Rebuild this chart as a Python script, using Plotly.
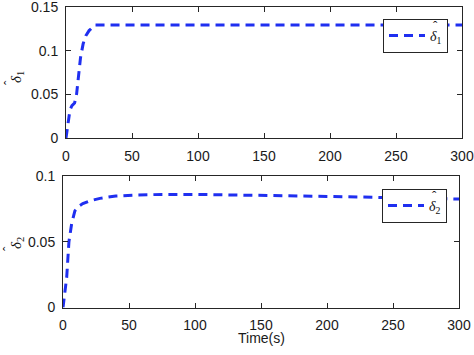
import plotly.graph_objects as go

# Data
t1 = [0, 1.5, 3, 4.5, 6.5, 8, 9.5, 11, 13, 15, 17.5, 20, 22, 30, 100, 200, 300]
d1 = [0, 0.018, 0.032, 0.037, 0.040, 0.050, 0.072, 0.092, 0.108, 0.117, 0.123, 0.127, 0.1295, 0.1295, 0.1295, 0.1295, 0.1295]
t2 = [0, 1.5, 2.8, 4.5, 6.6, 9, 12, 15, 20, 28, 40, 55, 75, 100, 150, 200, 250, 300]
d2 = [0, 0.012, 0.023, 0.05, 0.064, 0.0735, 0.077, 0.079, 0.081, 0.083, 0.0848, 0.0855, 0.086, 0.086, 0.0855, 0.0845, 0.0835, 0.0825]
xticks = [0, 50, 100, 150, 200, 250, 300]
y1ticks = [0, 0.05, 0.1, 0.15]
y1labels = ["0", "0.05", "0.1", "0.15"]
y2ticks = [0, 0.05, 0.1]
y2labels = ["0", "0.05", "0.1"]

W, H = 474, 355
blue = "#1f2ff0"
axcol = "#262626"
tickfont = dict(family="Liberation Sans, Arial", size=14, color="#1a1a1a")
mathfont = dict(family="Liberation Serif, Times New Roman", size=15, color="#111")
legfont = dict(family="Liberation Serif, Times New Roman", size=14, color="#111")
hatfont = dict(family="Liberation Serif, Times New Roman", size=13, color="#111")

fig = go.Figure()
fig.add_trace(go.Scatter(x=t1, y=d1, mode="lines", name="<i>\u03b4</i><sub>1</sub>",
                         line=dict(color=blue, width=3, dash="9px,6px"),
                         xaxis="x", yaxis="y", legend="legend"))
fig.add_trace(go.Scatter(x=t2, y=d2, mode="lines", name="<i>\u03b4</i><sub>2</sub>",
                         line=dict(color=blue, width=3, dash="9px,6px"),
                         xaxis="x2", yaxis="y2", legend="legend2"))

def ax(domain, anchor, rng, tv, tt=None, standoff=2):
    d = dict(domain=domain, anchor=anchor, range=rng, tickvals=tv,
             showline=True, linecolor=axcol, linewidth=1, mirror="ticks",
             ticks="inside", ticklen=5, tickcolor=axcol, tickwidth=1,
             showgrid=False, zeroline=False, tickfont=tickfont,
             automargin=False, ticklabelstandoff=standoff,
             ticklabeloverflow="allow")
    if tt is not None:
        d["ticktext"] = tt
    return d

def p(x, y):
    return x / W, 1 - y / H

fig.update_layout(
    template="none",
    width=W, height=H,
    margin=dict(l=0, r=0, t=0, b=0, pad=0),
    paper_bgcolor="white", plot_bgcolor="white",
    xaxis=ax([66 / W, 462 / W], "y", [0, 300], xticks, standoff=5),
    yaxis=ax([1 - 138 / H, 1 - 7 / H], "x", [0, 0.15000001], y1ticks, y1labels, standoff=4),
    xaxis2=ax([63 / W, 459 / W], "y2", [0, 300], xticks, standoff=5),
    yaxis2=ax([1 - 307.5 / H, 1 - 176 / H], "x2", [0, 0.10000001], y2ticks, y2labels, standoff=4),
    legend=dict(x=448 / W, y=1 - 19 / H, xanchor="right", yanchor="top",
                bgcolor="white", bordercolor=axcol, borderwidth=1,
                font=legfont, itemwidth=36, tracegroupgap=0),
    legend2=dict(x=447 / W, y=1 - 189 / H, xanchor="right", yanchor="top",
                 bgcolor="white", bordercolor=axcol, borderwidth=1,
                 font=legfont, itemwidth=36, tracegroupgap=0),
    showlegend=True,
)

ann = [
    # y-axis titles
    dict(text="<i>\u03b4</i><sub>1</sub>", pos=p(17, 77), angle=-90, font=mathfont),
    dict(text="<i>\u03b4</i><sub>2</sub>", pos=p(17, 243), angle=-90, font=mathfont),
    # hats over delta
    dict(text="\u02c6", pos=p(8, 82), angle=-90, font=hatfont),
    dict(text="\u02c6", pos=p(8, 248), angle=-90, font=hatfont),
    dict(text="\u02c6", pos=p(435, 25), angle=0, font=hatfont),
    dict(text="\u02c6", pos=p(434, 195), angle=0, font=hatfont),
    # x title
    dict(text="Time(s)", pos=p(261, 338), angle=0, font=tickfont),
]
for a in ann:
    fig.add_annotation(text=a["text"], x=a["pos"][0], y=a["pos"][1], xref="paper", yref="paper",
                       xanchor="center", yanchor="middle", showarrow=False,
                       textangle=a["angle"], font=a["font"])

fig.write_html("out.html", config={"displayModeBar": False},
               post_script="document.body.style.margin='0';document.body.style.overflow='hidden';")
